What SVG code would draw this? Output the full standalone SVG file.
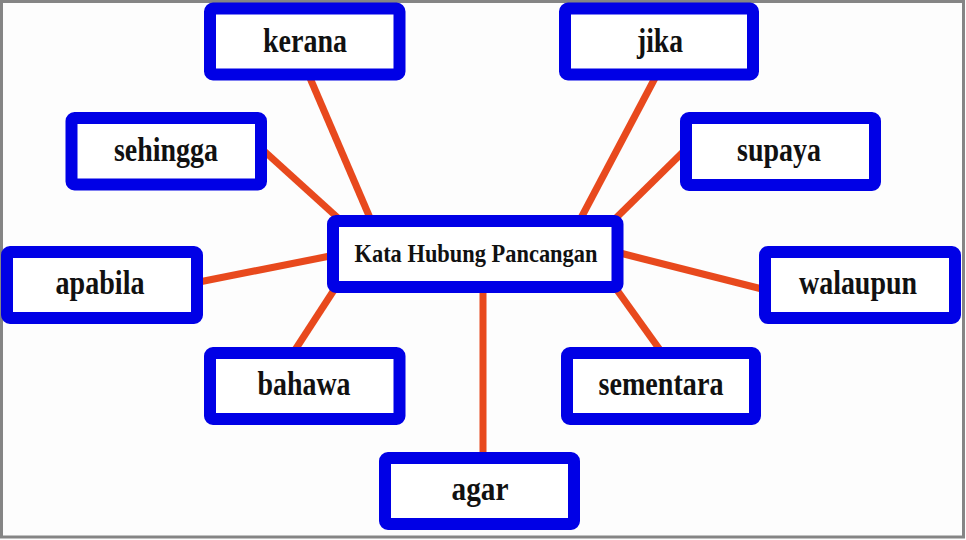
<svg xmlns="http://www.w3.org/2000/svg" width="966" height="540" viewBox="0 0 966 540">
<style>
.box{fill:#ffffff;stroke:#0000e6;stroke-width:12;}
.lbl{font-family:"Liberation Serif","Times New Roman",serif;font-weight:bold;font-size:34px;fill:#111;text-anchor:middle;}
.hub{font-family:"Liberation Serif","Times New Roman",serif;font-weight:bold;font-size:25px;fill:#111;text-anchor:middle;}
.con line{stroke:#e8491d;stroke-width:7;stroke-linecap:butt;}
</style>
<rect x="0" y="0" width="966" height="540" fill="#fdfdfd"/>
<rect x="1.5" y="1.5" width="962" height="535.5" fill="none" stroke="#858585" stroke-width="3"/>
<g id="connectors" class="con">
<line x1="310" y1="78" x2="370" y2="218"/>
<line x1="263" y1="150" x2="338" y2="218"/>
<line x1="199" y1="282" x2="330" y2="256"/>
<line x1="295" y1="350" x2="334" y2="290"/>
<line x1="483" y1="290" x2="483" y2="455"/>
<line x1="655" y1="78" x2="581" y2="218"/>
<line x1="683" y1="152" x2="616" y2="218"/>
<line x1="620" y1="253" x2="762" y2="289"/>
<line x1="617" y1="290" x2="660" y2="350"/>
</g>
<g id="hub">
<rect class="box" x="333" y="221" width="284.5" height="66" rx="3"/>
<text class="hub" x="476" y="262" textLength="243" lengthAdjust="spacingAndGlyphs">Kata Hubung Pancangan</text>
</g>
<g id="kerana">
<rect class="box" x="210" y="8.5" width="189.5" height="66" rx="3"/>
<text class="lbl" x="305" y="52" textLength="84" lengthAdjust="spacingAndGlyphs">kerana</text>
</g>
<g id="sehingga">
<rect class="box" x="71.5" y="118" width="189.5" height="66.5" rx="3"/>
<text class="lbl" x="166" y="161" textLength="104" lengthAdjust="spacingAndGlyphs">sehingga</text>
</g>
<g id="apabila">
<rect class="box" x="7" y="252" width="190" height="66" rx="3"/>
<text class="lbl" x="100" y="294" textLength="89" lengthAdjust="spacingAndGlyphs">apabila</text>
</g>
<g id="bahawa">
<rect class="box" x="210" y="353" width="189.5" height="66" rx="3"/>
<text class="lbl" x="304" y="395" textLength="93" lengthAdjust="spacingAndGlyphs">bahawa</text>
</g>
<g id="agar">
<rect class="box" x="385" y="458" width="189" height="66" rx="3"/>
<text class="lbl" x="480" y="500" textLength="57" lengthAdjust="spacingAndGlyphs">agar</text>
</g>
<g id="jika">
<rect class="box" x="565" y="8.5" width="188" height="66" rx="3"/>
<text class="lbl" x="660" y="52" textLength="46" lengthAdjust="spacingAndGlyphs">jika</text>
</g>
<g id="supaya">
<rect class="box" x="686" y="118" width="189" height="67" rx="3"/>
<text class="lbl" x="779" y="161" textLength="84" lengthAdjust="spacingAndGlyphs">supaya</text>
</g>
<g id="walaupun">
<rect class="box" x="765" y="252" width="190" height="66" rx="3"/>
<text class="lbl" x="858" y="294" textLength="118" lengthAdjust="spacingAndGlyphs">walaupun</text>
</g>
<g id="sementara">
<rect class="box" x="567" y="353" width="188" height="66" rx="3"/>
<text class="lbl" x="661" y="395" textLength="125" lengthAdjust="spacingAndGlyphs">sementara</text>
</g>
</svg>
